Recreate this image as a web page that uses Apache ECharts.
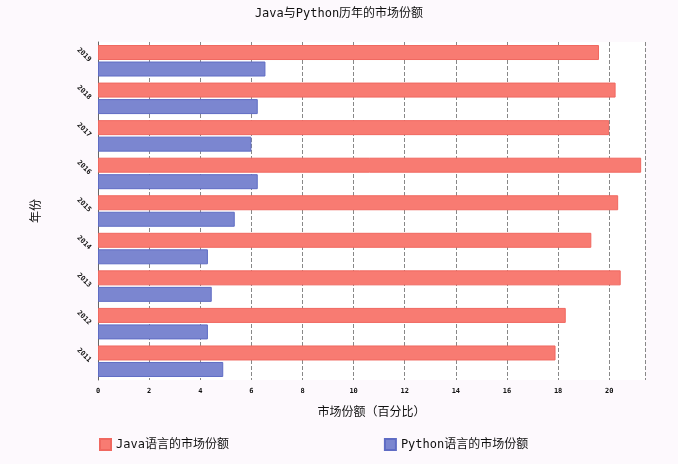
<!DOCTYPE html>
<html style="width:100%;height:100%">
<head>
    <meta charset="UTF-8">
    <script src="https://cdn.jsdelivr.net/npm/echarts@6/dist/echarts.min.js"></script>
</head>
<body style="margin:0;width:100%;height:100%;overflow:hidden">
    <div id="main" style="width:678px;height:464px"></div>
    <script type="text/javascript">
        var years = ['2011', '2012', '2013', '2014', '2015', '2016', '2017', '2018', '2019'];
        var javaShare = [17.9, 18.3, 20.45, 19.3, 20.35, 21.25, 20.0, 20.25, 19.6];
        var pythonShare = [4.9, 4.3, 4.45, 4.3, 5.35, 6.25, 6.0, 6.25, 6.55];

        var myChart = echarts.init(document.getElementById('main'));
        var mono = 'DejaVu Sans Mono, Noto Sans CJK SC';

        option = {
            backgroundColor: '#fdf9fd',
            textStyle: { fontFamily: mono },
            title: {
                text: 'Java与Python历年的市场份额',
                left: 'center', top: 3,
                textStyle: { fontSize: 12, fontWeight: 'normal', color: '#111', fontFamily: mono }
            },
            legend: {
                bottom: 8, left: 94, itemGap: 155,
                itemWidth: 11, itemHeight: 11,
                icon: 'rect',
                textStyle: { fontSize: 12, color: '#111', fontFamily: mono }
            },
            grid: {
                left: 98, right: 33, top: 42, bottom: 84,
                show: true, backgroundColor: '#fff', borderWidth: 0
            },
            xAxis: {
                type: 'value', min: 0, max: 21.4, interval: 2,
                name: '市场份额（百分比）', nameLocation: 'middle', nameGap: 27,
                nameTextStyle: { fontSize: 12, color: '#111' },
                axisLine: { show: false },
                axisTick: { show: false },
                axisLabel: { fontSize: 7, color: '#111', fontWeight: 'bold',
                    showMaxLabel: false },
                splitLine: { lineStyle: { type: 'dashed', color: '#888' } }
            },
            yAxis: {
                type: 'category', data: years,
                name: '年份', nameLocation: 'middle', nameGap: 55, nameRotate: 90,
                nameTextStyle: { fontSize: 12, color: '#111' },
                axisLine: { show: true, lineStyle: { color: '#666' } },
                axisTick: { show: false },
                axisLabel: { fontSize: 7, color: '#111', rotate: -45, fontWeight: 'bold' }
            },
            series: [{
                name: 'Java语言的市场份额', type: 'bar', data: javaShare,
                barWidth: 15, barGap: '10%',
                itemStyle: { color: '#f87b72', borderColor: '#f06860', borderWidth: 1 }
            }, {
                name: 'Python语言的市场份额', type: 'bar', data: pythonShare,
                barWidth: 15,
                itemStyle: { color: '#7b86d0', borderColor: '#5f6cc4', borderWidth: 1 }
            }]
        };
        myChart.setOption(option);
    </script>
</body>
</html>
